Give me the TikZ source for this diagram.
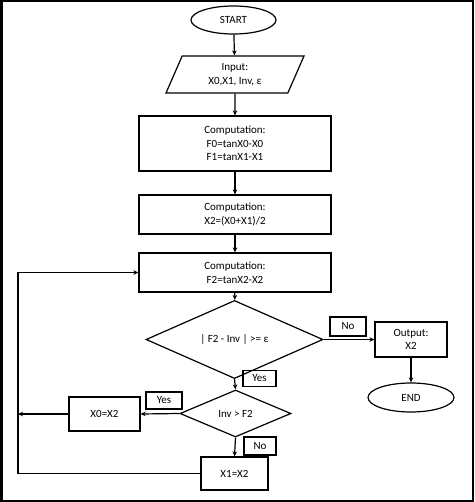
\documentclass[tikz,border=0pt]{standalone}
\usepackage{fontspec}
\setmainfont{Carlito}
\usetikzlibrary{arrows.meta, positioning, calc, shapes.geometric}

\begin{document}
\begin{tikzpicture}[
    x=1pt, y=-1pt,
    font=\fontsize{11}{13.5}\selectfont,
    every node/.style={line width=1.2pt, align=center, inner sep=1pt},
    terminal/.style={ellipse, draw, fill=white, minimum width=85pt, minimum height=28pt},
    io/.style={trapezium, draw, trapezium left angle=56, trapezium right angle=124, trapezium stretches body, minimum width=138pt, minimum height=37pt},
    process/.style={rectangle, draw, minimum width=192pt},
    decision/.style={diamond, draw, inner sep=0pt},
    tag/.style={rectangle, draw, minimum width=34pt, minimum height=17pt},
    arrow/.style={-{Stealth[length=5pt, width=4.5pt]}, line width=1.2pt},
    line/.style={line width=1.2pt}
]

\useasboundingbox (0,0) rectangle (474,502);
\draw[line width=2.5pt] (1.25,1.25) rectangle (472.75,500.75);

% Start and input
\node[terminal] (start) at (233.5,20) {START};
\node[io] (input) at (235,74.5) {Input:\\X0,X1, Inv, ε};

% Computations
\node[process, minimum height=55pt] (comp1) at (235,143.5) {Computation:\\F0=tanX0-X0\\F1=tanX1-X1};
\node[process, minimum height=39pt] (comp2) at (235,214.5) {Computation:\\X2=(X0+X1)/2};
\node[process, minimum height=39pt] (comp3) at (235,272.5) {Computation:\\F2=tanX2-X2};

% Tests
\node[decision, minimum width=177pt, minimum height=55pt] (test1) at (234.5,339.5) {| F2 - Inv | >= ε};
\node[decision, minimum width=111pt, minimum height=47pt] (test2) at (235.5,413.5) {Inv > F2};

% Output and end
\node[rectangle, draw, minimum width=72pt, minimum height=35pt] (out) at (411,339.5) {Output:\\X2};
\node[terminal, minimum width=86pt, minimum height=29pt] (stop) at (411,397.5) {END};

% Updates
\node[rectangle, draw, minimum width=71pt, minimum height=34pt] (upd0) at (104.5,414) {X0=X2};
\node[rectangle, draw, minimum width=67pt, minimum height=33pt] (upd1) at (234.5,473.5) {X1=X2};

% Branch tags
\node[tag, minimum width=36pt, minimum height=19pt] (no1) at (348,326.5) {No};
\node[tag, minimum width=33pt, minimum height=16pt] (yes1) at (259.5,378.5) {Yes};
\node[tag, minimum width=36pt] (yes2) at (164,400.5) {Yes};
\node[tag, minimum width=32pt, minimum height=18pt] (no2) at (260,446) {No};

% Loop corners
\coordinate (lb) at (18,473.5);
\coordinate (lt) at (18,272.5);
\coordinate (lm) at (18,414);

% Main flow
\draw[arrow] (start) -- (input);
\draw[arrow] (input) -- (comp1);
\draw[arrow] (comp1) -- (comp2);
\draw[arrow] (comp2) -- (comp3);
\draw[arrow] (comp3) -- (test1);
\draw[arrow] (test1.east) -- (out.west);
\draw[arrow] (out) -- (stop);
\draw[arrow] (test1.south) -- (test2.north);
\draw[arrow] (test2.west) -- (upd0.east);
\draw[arrow] (test2.south) -- (upd1.north);

% Loop back
\draw[arrow] (upd0.west) -- (lm);
\draw[arrow] (upd1.west) -- (lb) -- (lt) -- (comp3.west);

\end{tikzpicture}
\end{document}
